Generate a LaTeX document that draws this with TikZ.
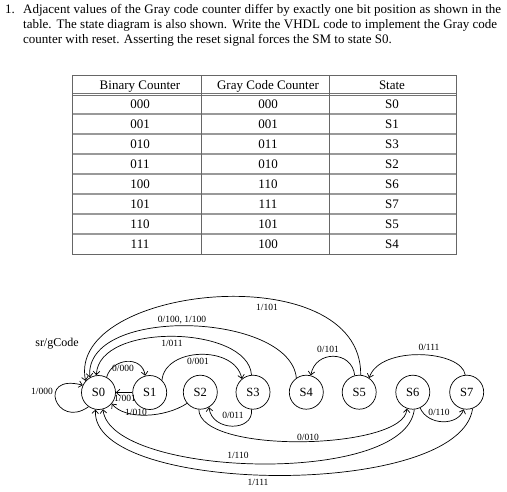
\documentclass[tikz,border=0pt]{standalone}
\usepackage{fontspec}
\setmainfont{Liberation Serif}
\usetikzlibrary{arrows.meta}
\begin{document}
\begin{tikzpicture}[x=1pt,y=-1pt,
  st/.style={circle, draw, line width=0.7pt, minimum size=34pt, inner sep=0pt, font=\fontsize{12.5}{14}\selectfont},
  lbl/.style={anchor=base, inner sep=0pt, font=\fontsize{9.5}{11}\selectfont},
  tr/.style={line width=0.7pt, -{Straight Barb[length=3.5pt,width=6.5pt,line width=0.7pt]}},
  tx/.style={anchor=base, inner sep=0pt, font=\fontsize{13}{15}\selectfont},
  hl/.style={draw=black!40, line width=1.4pt},
  vl/.style={draw=black!60, line width=0.8pt}]
\useasboundingbox (0,0) rectangle (507,491);
\fill[white] (0,0) rectangle (507,491);
% title
\node[tx, anchor=base west] (num) at (5,13.5) {1.};
\node[tx, anchor=base west] (l1) at (23,13.5) {\hbox to 478pt{Adjacent values of the Gray code counter differ by exactly one bit position as shown in the}};
\node[tx, anchor=base west] (l2) at (23,28.5) {\hbox to 474pt{table. The state diagram is also shown. Write the VHDL code to implement the Gray code}};
\node[tx, anchor=base west] (l3) at (23,43.5) {counter with reset. Asserting the reset signal forces the SM to state S0.};
% table
\foreach \yy in {114,134,154,174,194,214,234} \draw[hl] (72,\yy) -- (456,\yy);
\draw[black!55, line width=0.6pt] (72,93) -- (456,93);
\draw[black!55, line width=0.6pt] (72,95.5) -- (456,95.5);
\draw[vl] (201,75) -- (201,254);
\draw[vl] (329,75) -- (329,254);
\draw[black!60, line width=0.8pt] (72,75) rectangle (456,254);
\node[tx] (h1) at (140,89.5) {Binary Counter};
\node[tx] (h2) at (268,89.5) {Gray Code Counter};
\node[tx] (h3) at (392,89.5) {State};
\foreach \b/\g/\s [count=\i from 0] in {000/000/S0,001/001/S1,010/011/S3,011/010/S2,100/110/S6,101/111/S7,110/101/S5,111/100/S4}{
  \node[tx] (b\i) at (140,108.5+20*\i) {\b};
  \node[tx] (g\i) at (268,108.5+20*\i) {\g};
  \node[tx] (s\i) at (392,108.5+20*\i) {\s};
}
% states
\node[st] (S0) at (98.5,392.5) {S0};
\node[st] (S1) at (149.7,392.5) {S1};
\node[st] (S2) at (200.3,392.2) {S2};
\node[st] (S3) at (253,392.2) {S3};
\node[st] (S4) at (306.3,392.2) {S4};
\node[st] (S5) at (359.2,392.2) {S5};
\node[st] (S6) at (412.8,392.2) {S6};
\node[st] (S7) at (466.7,392.2) {S7};
% transitions
\draw[tr] (S0.235) .. controls (56,430) and (36,373) .. (S0.155);
\draw[tr] (S5.85) .. controls (362,255) and (66,285) .. (S0.138);
\draw[tr] (S4.125) .. controls (290,312) and (84,305) .. (S0.120);
\draw[tr] (S3.95) .. controls (248,325) and (98,322) .. (S0.97);
\draw[tr] (S0.62) .. controls (112,358) and (142,355) .. (S1.105);
\draw[tr] (S1.west) -- (S0.east);
\draw[tr] (S1.45) .. controls (165,347) and (235,345) .. (S3.130);
\draw[tr] (S5.105) .. controls (352,350) and (315,350) .. (S4.75);
\draw[tr] (S7.95) .. controls (462,350) and (380,345) .. (S5.55);
\draw[tr] (S2.220) .. controls (165,418) and (125,420) .. (S0.-40);
\draw[tr] (S3.265) .. controls (254,432) and (212,432) .. (S2.-60);
\draw[tr] (S2.265) .. controls (200,455) and (405,450) .. (S6.250);
\draw[tr] (S6.275) .. controls (405,487) and (110,477) .. (S0.-75);
\draw[tr] (S7.290) .. controls (460,500) and (90,495) .. (S0.-100);
\draw[tr] (S6.-65) .. controls (428,426) and (458,426) .. (S7.-100);
% labels
\node[lbl, font=\fontsize{12}{14}\selectfont] (src) at (57,346) {sr/gCode};
\node[lbl] (t1) at (267,310.3) {1/101};
\node[lbl] (t2) at (182,322.3) {0/100, 1/100};
\node[lbl] (t3) at (172,346.3) {1/011};
\node[lbl] (t4) at (123,371.8) {0/000};
\node[lbl] (t5) at (198,364.8) {0/001};
\node[lbl] (t6) at (328,352.3) {0/101};
\node[lbl] (t7) at (429,350.3) {0/111};
\node[lbl] (t8) at (42,394.3) {1/000};
\node[lbl] (t9) at (125,401) {1/001};
\node[lbl] (t10) at (136,415) {1/010};
\node[lbl] (t11) at (233,418.3) {0/011};
\node[lbl] (t12) at (308,440.3) {0/010};
\node[lbl] (t13) at (238,458.3) {1/110};
\node[lbl] (t14) at (258,485.3) {1/111};
\node[lbl] (t15) at (439,415.3) {0/110};
\end{tikzpicture}
\end{document}
